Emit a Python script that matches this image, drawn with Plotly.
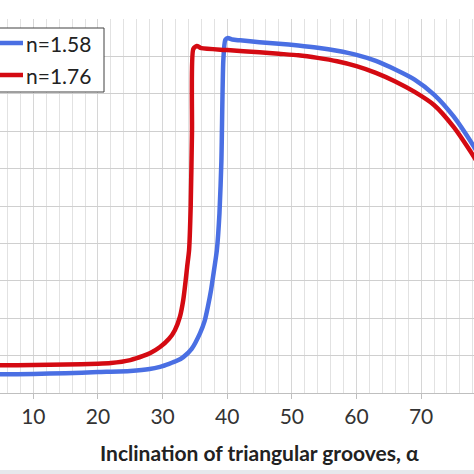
import plotly.graph_objects as go

# Inclination of triangular grooves (deg) and response for two refractive indices
alpha_n158 = [0, 5, 10, 15, 20, 25, 28, 29.6, 31, 32.2, 33.2, 34.5, 35.8, 36.5, 37.0, 37.5, 37.8, 38.4, 38.8, 39.1, 39.4,
              39.7, 40.1, 40.8, 42, 45, 48, 51, 54, 57, 60, 63, 66, 69, 72, 75, 78.2, 80]
val_n158 = [0.50, 0.50, 0.51, 0.53, 0.56, 0.59, 0.64, 0.70, 0.78, 0.86, 0.96, 1.18, 1.60, 1.92, 2.30, 2.75, 3.10, 3.82, 4.8, 6.2, 8.9,
            9.44, 9.49, 9.45, 9.43, 9.38, 9.34, 9.29, 9.23, 9.15, 9.04, 8.88, 8.65, 8.38, 7.98, 7.40, 6.58, 6.05]

alpha_n176 = [0, 5, 10, 15, 20, 22, 25, 27, 28.1, 29.6, 31.0, 31.9, 32.7, 33.2, 33.5, 33.8, 34.1, 34.35, 34.55, 34.75,
              35.3, 36, 40, 45, 48, 51, 54, 57, 60, 63, 66, 69, 72, 75, 78.2, 80]
val_n176 = [0.74, 0.74, 0.75, 0.76, 0.78, 0.80, 0.88, 0.99, 1.07, 1.23, 1.45, 1.68, 2.05, 2.49, 2.90, 3.37, 3.82, 5.0, 7.0, 9.2,
            9.28, 9.22, 9.17, 9.11, 9.07, 9.03, 8.96, 8.87, 8.74, 8.56, 8.33, 8.05, 7.70, 7.12, 6.31, 5.80]

x_ticks = [10, 20, 30, 40, 50, 60, 70]
series_names = ["n=1.58", "n=1.76"]
series_colors = ["#4a6fe3", "#d40a12"]

FONT = "Lato, Open Sans, sans-serif"

fig = go.Figure()
fig.add_trace(go.Scatter(x=alpha_n158, y=val_n158, mode="lines", name=series_names[0],
                         line=dict(color=series_colors[0], width=4.5, shape="spline", smoothing=0.6)))
fig.add_trace(go.Scatter(x=alpha_n176, y=val_n176, mode="lines", name=series_names[1],
                         line=dict(color=series_colors[1], width=4.5, shape="spline", smoothing=0.6)))

fig.update_layout(
    width=474, height=474,
    margin=dict(l=0, r=0, t=19, b=81),
    paper_bgcolor="white", plot_bgcolor="white",
    showlegend=False,
    font=dict(family=FONT, color="#333"),
)
fig.update_xaxes(range=[4.84, 78.19], tickvals=x_ticks, ticktext=[str(v) for v in x_ticks],
                 showgrid=True, gridcolor="#d6d6d6", gridwidth=1,
                 minor=dict(dtick=2, tick0=0, showgrid=True, gridcolor="#e2e2e2", gridwidth=1),
                 ticks="outside", ticklen=5, tickcolor="#bfbfbf",
                 showline=True, linecolor="#bfbfbf", linewidth=1, zeroline=False,
                 tickfont=dict(size=21, color="#333", family=FONT))
fig.update_yaxes(range=[0, 10], dtick=1, showticklabels=False, showgrid=True,
                 gridcolor="#cfcfcf", gridwidth=1, zeroline=False, ticks="")

H = 374.0  # plot height in px; paper y = (393 - py) / H
def py(v):
    return (393 - v) / H

# legend box (partly cut off at the left edge, as in the reference)
fig.add_shape(type="rect", xref="paper", yref="paper", x0=-0.05, x1=104 / 474,
              y0=py(92), y1=py(28), fillcolor="white", line=dict(color="#404040", width=1))
for i, (name, col) in enumerate(zip(series_names, series_colors)):
    yy = py(43 + 32 * i)
    fig.add_shape(type="line", xref="paper", yref="paper", x0=-0.02, x1=23 / 474, y0=yy, y1=yy,
                  line=dict(color=col, width=4.5))
    fig.add_annotation(text=name, xref="paper", yref="paper", x=24 / 474, y=yy,
                       xanchor="left", yanchor="middle", showarrow=False,
                       font=dict(size=21, color="#222", family=FONT))

fig.add_annotation(text="<b>Inclination of triangular grooves, α</b>", xref="paper", yref="paper",
                   x=259 / 474, y=py(452), xanchor="center", yanchor="middle",
                   showarrow=False, font=dict(size=21, color="#222", family=FONT))
fig.add_shape(type="rect", xref="paper", yref="paper", x0=-0.01, x1=1.01,
              y0=py(475), y1=py(470), fillcolor="#e6e8ec", line=dict(width=0), layer="below")

fig.write_html("out.html")
